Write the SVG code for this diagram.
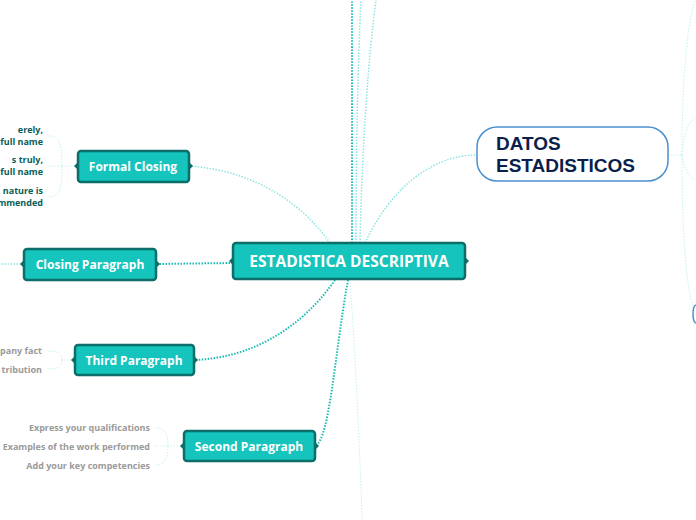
<svg xmlns="http://www.w3.org/2000/svg" width="696" height="520" viewBox="0 0 696 520">
<style>
.n rect{fill:#15c4bc;stroke:#0b6e69;stroke-width:2.5}
.n text{fill:#fff;font-family:"Open Sans","Noto Sans",sans-serif;font-weight:bold;text-anchor:middle}
.c{fill:none;stroke-dasharray:1.5 1.5}
.d{stroke:#17bdb5;stroke-width:2}
.l{stroke:#8fe3e0;stroke-width:1.5}
.x{stroke:#c8f1f0;stroke-width:1}
.g{font-family:"Open Sans","Noto Sans",sans-serif;font-weight:bold;font-size:9px;fill:#9a9a9a;text-anchor:end}
.t{font-family:"Open Sans","Noto Sans",sans-serif;font-weight:bold;font-size:9px;fill:#0b5d58;text-anchor:end}
.nt{fill:#0b6e69}
</style>
<g id="connectors">
<path class="c l" d="M330,243 C300,200 250,170 189,166"/>
<path class="c d" d="M233,263 L156,264"/>
<path class="c l" d="M24,264 L0,264"/>
<path class="c d" d="M335,280 C300,330 250,358 194,360"/>
<path class="c d" d="M348,280 C335,350 330,440 315,446"/>
<path class="c d" d="M352,243 C352,150 352,60 352,0"/>
<path class="c l" d="M356,243 C356,150 358,60 361,0"/>
<path class="c l" d="M360,243 C362,150 368,60 376,0"/>
<path class="c l" d="M365,243 C390,190 430,155 477,155"/>
<path class="c x" d="M350,280 C355,350 360,450 362,520"/>
<path class="c x" d="M668,155 L682,155 M682,155 C682,60 690,10 696,0 M682,155 C684,130 690,120 696,118 M682,155 C684,170 690,178 696,180 M682,155 C682,250 688,300 696,314"/>
<path class="c x" d="M78,166 L62,166 M62,166 C62,140 58,136 48,136 M62,166 L48,166 M62,166 C62,192 58,197 48,197"/>
<path class="c x" d="M75,360 L62,360 M62,360 C62,352 56,351 46,351 M62,360 C62,368 56,369 46,369"/>
<path class="c x" d="M184,446 L168,446 M168,446 C168,430 162,428 154,428 M168,446 L154,446 M168,446 C168,462 162,465 154,465"/>
</g>
<g id="central" class="n"><rect x="233" y="243" width="232" height="36" rx="3"/><path class="nt" d="M233,257 l-4,4 4,4 Z M465,257 l4,4 -4,4 Z"/><text x="349" y="267" font-size="15.5">ESTADISTICA DESCRIPTIVA</text></g>
<g id="formal" class="n"><rect x="78" y="151" width="111" height="31" rx="3"/><path class="nt" d="M78,162 l-4,4 4,4 Z M189,162 l4,4 -4,4 Z"/><text x="133" y="171" font-size="12">Formal Closing</text></g>
<g id="closingpar" class="n"><rect x="24" y="249" width="132" height="31" rx="3"/><path class="nt" d="M24,260 l-4,4 4,4 Z M156,260 l4,4 -4,4 Z"/><text x="90" y="269" font-size="12">Closing Paragraph</text></g>
<g id="third" class="n"><rect x="75" y="345" width="119" height="30" rx="3"/><path class="nt" d="M75,356 l-4,4 4,4 Z M194,356 l4,4 -4,4 Z"/><text x="134" y="365" font-size="12">Third Paragraph</text></g>
<g id="second" class="n"><rect x="184" y="431" width="131" height="30" rx="3"/><path class="nt" d="M184,442 l-4,4 4,4 Z M315,442 l4,4 -4,4 Z"/><text x="249" y="451" font-size="12">Second Paragraph</text></g>
<g id="datos"><rect x="477" y="127" width="191" height="54" rx="20" fill="#fff" stroke="#4a90d0" stroke-width="1.5"/><text font-family="'Liberation Sans',Arial,sans-serif" font-weight="bold" font-size="19" fill="#0a1f4a"><tspan x="496" y="150">DATOS</tspan><tspan x="496" y="172">ESTADISTICOS</tspan></text></g>
<g id="partial"><path d="M696,305 C692,306 692,322 696,323" fill="none" stroke="#4a90d0" stroke-width="1.5"/></g>
<g id="leaves">
<text class="t" x="43" y="133">erely,</text><text class="t" x="43" y="145">full name</text>
<text class="t" x="43" y="163">s truly,</text><text class="t" x="43" y="175">full name</text>
<text class="t" x="43" y="194">nature is</text><text class="t" x="43" y="206">mmended</text>
<text class="g" x="42" y="354">pany fact</text><text class="g" x="42" y="373">tribution</text>
<text class="g" x="150" y="431">Express your qualifications</text>
<text class="g" x="150" y="450">Examples of the work performed</text>
<text class="g" x="150" y="469">Add your key competencies</text>
</g>
</svg>
